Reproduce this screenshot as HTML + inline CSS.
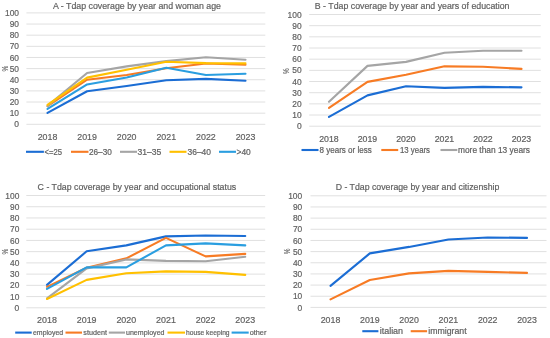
<!DOCTYPE html>
<html><head><meta charset="utf-8"><style>
html,body{margin:0;padding:0;background:#fff;width:550px;height:338px;overflow:hidden}
svg{display:block}
text{font-family:"Liberation Sans", sans-serif;fill:#606060;stroke:#606060;stroke-width:0.2px}
svg{filter:blur(0.25px)}
</style></head><body>
<svg width="550" height="338" viewBox="0 0 550 338">
<rect width="550" height="338" fill="#fff"/>
<line x1="26.4" y1="124.30" x2="265.3" y2="124.30" stroke="#e0e0e0" stroke-width="1.0"/>
<line x1="26.4" y1="113.16" x2="265.3" y2="113.16" stroke="#e0e0e0" stroke-width="1.0"/>
<line x1="26.4" y1="102.02" x2="265.3" y2="102.02" stroke="#e0e0e0" stroke-width="1.0"/>
<line x1="26.4" y1="90.88" x2="265.3" y2="90.88" stroke="#e0e0e0" stroke-width="1.0"/>
<line x1="26.4" y1="79.74" x2="265.3" y2="79.74" stroke="#e0e0e0" stroke-width="1.0"/>
<line x1="26.4" y1="68.60" x2="265.3" y2="68.60" stroke="#e0e0e0" stroke-width="1.0"/>
<line x1="26.4" y1="57.46" x2="265.3" y2="57.46" stroke="#e0e0e0" stroke-width="1.0"/>
<line x1="26.4" y1="46.32" x2="265.3" y2="46.32" stroke="#e0e0e0" stroke-width="1.0"/>
<line x1="26.4" y1="35.18" x2="265.3" y2="35.18" stroke="#e0e0e0" stroke-width="1.0"/>
<line x1="26.4" y1="24.04" x2="265.3" y2="24.04" stroke="#e0e0e0" stroke-width="1.0"/>
<line x1="26.4" y1="12.90" x2="265.3" y2="12.90" stroke="#e0e0e0" stroke-width="1.0"/>
<text x="19.00" y="127.40" font-size="9.3" text-anchor="end" textLength="4.7" lengthAdjust="spacingAndGlyphs">0</text>
<text x="19.00" y="116.26" font-size="9.3" text-anchor="end" textLength="9.3" lengthAdjust="spacingAndGlyphs">10</text>
<text x="19.00" y="105.12" font-size="9.3" text-anchor="end" textLength="9.3" lengthAdjust="spacingAndGlyphs">20</text>
<text x="19.00" y="93.98" font-size="9.3" text-anchor="end" textLength="9.3" lengthAdjust="spacingAndGlyphs">30</text>
<text x="19.00" y="82.84" font-size="9.3" text-anchor="end" textLength="9.3" lengthAdjust="spacingAndGlyphs">40</text>
<text x="19.00" y="71.70" font-size="9.3" text-anchor="end" textLength="9.3" lengthAdjust="spacingAndGlyphs">50</text>
<text x="19.00" y="60.56" font-size="9.3" text-anchor="end" textLength="9.3" lengthAdjust="spacingAndGlyphs">60</text>
<text x="19.00" y="49.42" font-size="9.3" text-anchor="end" textLength="9.3" lengthAdjust="spacingAndGlyphs">70</text>
<text x="19.00" y="38.28" font-size="9.3" text-anchor="end" textLength="9.3" lengthAdjust="spacingAndGlyphs">80</text>
<text x="19.00" y="27.14" font-size="9.3" text-anchor="end" textLength="9.3" lengthAdjust="spacingAndGlyphs">90</text>
<text x="19.00" y="16.00" font-size="9.3" text-anchor="end" textLength="14.0" lengthAdjust="spacingAndGlyphs">100</text>
<text x="0" y="0" font-size="9" text-anchor="middle" textLength="5.8" lengthAdjust="spacingAndGlyphs" style="stroke-width:0.1px" transform="translate(4.75,68.50) rotate(-90)" dy="0.35em">%</text>
<text x="47.50" y="140.20" font-size="9.8" text-anchor="middle" textLength="19.7" lengthAdjust="spacingAndGlyphs">2018</text>
<text x="87.10" y="140.20" font-size="9.8" text-anchor="middle" textLength="19.7" lengthAdjust="spacingAndGlyphs">2019</text>
<text x="126.70" y="140.20" font-size="9.8" text-anchor="middle" textLength="19.7" lengthAdjust="spacingAndGlyphs">2020</text>
<text x="166.30" y="140.20" font-size="9.8" text-anchor="middle" textLength="19.7" lengthAdjust="spacingAndGlyphs">2021</text>
<text x="205.90" y="140.20" font-size="9.8" text-anchor="middle" textLength="19.7" lengthAdjust="spacingAndGlyphs">2022</text>
<text x="245.50" y="140.20" font-size="9.8" text-anchor="middle" textLength="19.7" lengthAdjust="spacingAndGlyphs">2023</text>
<text x="53.00" y="9.30" font-size="9.6" text-anchor="start" textLength="168.0" lengthAdjust="spacingAndGlyphs">A - Tdap coverage by year and woman age</text>
<polyline points="47.50,112.94 87.10,91.21 126.70,85.98 166.30,80.19 205.90,78.85 245.50,80.74" fill="none" stroke="#1b6dd4" stroke-width="2.1" stroke-linejoin="round" stroke-linecap="round"/>
<polyline points="47.50,106.25 87.10,79.74 126.70,74.95 166.30,68.27 205.90,63.48 245.50,64.70" fill="none" stroke="#f77b24" stroke-width="2.1" stroke-linejoin="round" stroke-linecap="round"/>
<polyline points="47.50,105.92 87.10,72.94 126.70,66.37 166.30,61.14 205.90,57.24 245.50,59.69" fill="none" stroke="#a5a5a5" stroke-width="2.1" stroke-linejoin="round" stroke-linecap="round"/>
<polyline points="47.50,104.92 87.10,77.62 126.70,69.71 166.30,61.69 205.90,63.14 245.50,63.36" fill="none" stroke="#ffc000" stroke-width="2.1" stroke-linejoin="round" stroke-linecap="round"/>
<polyline points="47.50,108.93 87.10,84.42 126.70,77.51 166.30,67.71 205.90,74.95 245.50,73.72" fill="none" stroke="#2a9ee0" stroke-width="2.1" stroke-linejoin="round" stroke-linecap="round"/>
<line x1="26" y1="151.8" x2="43.9" y2="151.8" stroke="#1b6dd4" stroke-width="2.1"/>
<text x="44.50" y="154.80" font-size="8.5" text-anchor="start" textLength="17.5" lengthAdjust="spacingAndGlyphs">&lt;=25</text>
<line x1="71" y1="151.8" x2="88.5" y2="151.8" stroke="#f77b24" stroke-width="2.1"/>
<text x="89.00" y="154.80" font-size="8.5" text-anchor="start" textLength="22.8" lengthAdjust="spacingAndGlyphs">26–30</text>
<line x1="120" y1="151.8" x2="137" y2="151.8" stroke="#a5a5a5" stroke-width="2.1"/>
<text x="137.50" y="154.80" font-size="8.5" text-anchor="start" textLength="23.9" lengthAdjust="spacingAndGlyphs">31–35</text>
<line x1="169.5" y1="151.8" x2="186.5" y2="151.8" stroke="#ffc000" stroke-width="2.1"/>
<text x="187.50" y="154.80" font-size="8.5" text-anchor="start" textLength="23.5" lengthAdjust="spacingAndGlyphs">36–40</text>
<line x1="219" y1="151.8" x2="236" y2="151.8" stroke="#2a9ee0" stroke-width="2.1"/>
<text x="236.50" y="154.80" font-size="8.5" text-anchor="start" textLength="14.3" lengthAdjust="spacingAndGlyphs">&gt;40</text>
<line x1="309.2" y1="126.20" x2="540.75" y2="126.20" stroke="#e0e0e0" stroke-width="1.0"/>
<line x1="309.2" y1="115.03" x2="540.75" y2="115.03" stroke="#e0e0e0" stroke-width="1.0"/>
<line x1="309.2" y1="103.86" x2="540.75" y2="103.86" stroke="#e0e0e0" stroke-width="1.0"/>
<line x1="309.2" y1="92.69" x2="540.75" y2="92.69" stroke="#e0e0e0" stroke-width="1.0"/>
<line x1="309.2" y1="81.52" x2="540.75" y2="81.52" stroke="#e0e0e0" stroke-width="1.0"/>
<line x1="309.2" y1="70.35" x2="540.75" y2="70.35" stroke="#e0e0e0" stroke-width="1.0"/>
<line x1="309.2" y1="59.18" x2="540.75" y2="59.18" stroke="#e0e0e0" stroke-width="1.0"/>
<line x1="309.2" y1="48.01" x2="540.75" y2="48.01" stroke="#e0e0e0" stroke-width="1.0"/>
<line x1="309.2" y1="36.84" x2="540.75" y2="36.84" stroke="#e0e0e0" stroke-width="1.0"/>
<line x1="309.2" y1="25.67" x2="540.75" y2="25.67" stroke="#e0e0e0" stroke-width="1.0"/>
<line x1="309.2" y1="14.50" x2="540.75" y2="14.50" stroke="#e0e0e0" stroke-width="1.0"/>
<text x="301.60" y="129.30" font-size="9.3" text-anchor="end" textLength="4.7" lengthAdjust="spacingAndGlyphs">0</text>
<text x="301.60" y="118.13" font-size="9.3" text-anchor="end" textLength="9.3" lengthAdjust="spacingAndGlyphs">10</text>
<text x="301.60" y="106.96" font-size="9.3" text-anchor="end" textLength="9.3" lengthAdjust="spacingAndGlyphs">20</text>
<text x="301.60" y="95.79" font-size="9.3" text-anchor="end" textLength="9.3" lengthAdjust="spacingAndGlyphs">30</text>
<text x="301.60" y="84.62" font-size="9.3" text-anchor="end" textLength="9.3" lengthAdjust="spacingAndGlyphs">40</text>
<text x="301.60" y="73.45" font-size="9.3" text-anchor="end" textLength="9.3" lengthAdjust="spacingAndGlyphs">50</text>
<text x="301.60" y="62.28" font-size="9.3" text-anchor="end" textLength="9.3" lengthAdjust="spacingAndGlyphs">60</text>
<text x="301.60" y="51.11" font-size="9.3" text-anchor="end" textLength="9.3" lengthAdjust="spacingAndGlyphs">70</text>
<text x="301.60" y="39.94" font-size="9.3" text-anchor="end" textLength="9.3" lengthAdjust="spacingAndGlyphs">80</text>
<text x="301.60" y="28.77" font-size="9.3" text-anchor="end" textLength="9.3" lengthAdjust="spacingAndGlyphs">90</text>
<text x="301.60" y="17.60" font-size="9.3" text-anchor="end" textLength="14.0" lengthAdjust="spacingAndGlyphs">100</text>
<text x="0" y="0" font-size="9" text-anchor="middle" textLength="5.8" lengthAdjust="spacingAndGlyphs" style="stroke-width:0.1px" transform="translate(285.55,71.00) rotate(-90)" dy="0.35em">%</text>
<text x="329.00" y="141.90" font-size="9" text-anchor="middle" textLength="19.5" lengthAdjust="spacingAndGlyphs">2018</text>
<text x="367.50" y="141.90" font-size="9" text-anchor="middle" textLength="19.5" lengthAdjust="spacingAndGlyphs">2019</text>
<text x="406.00" y="141.90" font-size="9" text-anchor="middle" textLength="19.5" lengthAdjust="spacingAndGlyphs">2020</text>
<text x="444.50" y="141.90" font-size="9" text-anchor="middle" textLength="19.5" lengthAdjust="spacingAndGlyphs">2021</text>
<text x="483.00" y="141.90" font-size="9" text-anchor="middle" textLength="19.5" lengthAdjust="spacingAndGlyphs">2022</text>
<text x="521.50" y="141.90" font-size="9" text-anchor="middle" textLength="19.5" lengthAdjust="spacingAndGlyphs">2023</text>
<text x="314.80" y="9.30" font-size="9.6" text-anchor="start" textLength="194.7" lengthAdjust="spacingAndGlyphs">B - Tdap coverage by year and years of education</text>
<polyline points="329.00,116.93 367.50,95.37 406.00,86.32 444.50,87.89 483.00,86.88 521.50,87.33" fill="none" stroke="#1b6dd4" stroke-width="2.1" stroke-linejoin="round" stroke-linecap="round"/>
<polyline points="329.00,107.88 367.50,81.86 406.00,74.82 444.50,66.33 483.00,66.78 521.50,68.90" fill="none" stroke="#f77b24" stroke-width="2.1" stroke-linejoin="round" stroke-linecap="round"/>
<polyline points="329.00,101.85 367.50,65.88 406.00,61.86 444.50,52.81 483.00,50.80 521.50,50.80" fill="none" stroke="#a5a5a5" stroke-width="2.1" stroke-linejoin="round" stroke-linecap="round"/>
<line x1="301.5" y1="150.0" x2="318.5" y2="150.0" stroke="#1b6dd4" stroke-width="2.1"/>
<text x="319.50" y="153.00" font-size="8.5" text-anchor="start" textLength="52.2" lengthAdjust="spacingAndGlyphs">8 years or less</text>
<line x1="381.3" y1="150.0" x2="398.2" y2="150.0" stroke="#f77b24" stroke-width="2.1"/>
<text x="400.00" y="153.00" font-size="8.5" text-anchor="start" textLength="30.0" lengthAdjust="spacingAndGlyphs">13 years</text>
<line x1="440.5" y1="150.0" x2="457.3" y2="150.0" stroke="#a5a5a5" stroke-width="2.1"/>
<text x="458.00" y="153.00" font-size="8.5" text-anchor="start" textLength="72.0" lengthAdjust="spacingAndGlyphs">more than 13 years</text>
<line x1="26.3" y1="307.80" x2="265.2" y2="307.80" stroke="#e0e0e0" stroke-width="1.0"/>
<line x1="26.3" y1="296.57" x2="265.2" y2="296.57" stroke="#e0e0e0" stroke-width="1.0"/>
<line x1="26.3" y1="285.34" x2="265.2" y2="285.34" stroke="#e0e0e0" stroke-width="1.0"/>
<line x1="26.3" y1="274.11" x2="265.2" y2="274.11" stroke="#e0e0e0" stroke-width="1.0"/>
<line x1="26.3" y1="262.88" x2="265.2" y2="262.88" stroke="#e0e0e0" stroke-width="1.0"/>
<line x1="26.3" y1="251.65" x2="265.2" y2="251.65" stroke="#e0e0e0" stroke-width="1.0"/>
<line x1="26.3" y1="240.42" x2="265.2" y2="240.42" stroke="#e0e0e0" stroke-width="1.0"/>
<line x1="26.3" y1="229.19" x2="265.2" y2="229.19" stroke="#e0e0e0" stroke-width="1.0"/>
<line x1="26.3" y1="217.96" x2="265.2" y2="217.96" stroke="#e0e0e0" stroke-width="1.0"/>
<line x1="26.3" y1="206.73" x2="265.2" y2="206.73" stroke="#e0e0e0" stroke-width="1.0"/>
<line x1="26.3" y1="195.50" x2="265.2" y2="195.50" stroke="#e0e0e0" stroke-width="1.0"/>
<text x="19.30" y="310.90" font-size="9.3" text-anchor="end" textLength="4.7" lengthAdjust="spacingAndGlyphs">0</text>
<text x="19.30" y="299.67" font-size="9.3" text-anchor="end" textLength="9.3" lengthAdjust="spacingAndGlyphs">10</text>
<text x="19.30" y="288.44" font-size="9.3" text-anchor="end" textLength="9.3" lengthAdjust="spacingAndGlyphs">20</text>
<text x="19.30" y="277.21" font-size="9.3" text-anchor="end" textLength="9.3" lengthAdjust="spacingAndGlyphs">30</text>
<text x="19.30" y="265.98" font-size="9.3" text-anchor="end" textLength="9.3" lengthAdjust="spacingAndGlyphs">40</text>
<text x="19.30" y="254.75" font-size="9.3" text-anchor="end" textLength="9.3" lengthAdjust="spacingAndGlyphs">50</text>
<text x="19.30" y="243.52" font-size="9.3" text-anchor="end" textLength="9.3" lengthAdjust="spacingAndGlyphs">60</text>
<text x="19.30" y="232.29" font-size="9.3" text-anchor="end" textLength="9.3" lengthAdjust="spacingAndGlyphs">70</text>
<text x="19.30" y="221.06" font-size="9.3" text-anchor="end" textLength="9.3" lengthAdjust="spacingAndGlyphs">80</text>
<text x="19.30" y="209.83" font-size="9.3" text-anchor="end" textLength="9.3" lengthAdjust="spacingAndGlyphs">90</text>
<text x="19.30" y="198.60" font-size="9.3" text-anchor="end" textLength="14.0" lengthAdjust="spacingAndGlyphs">100</text>
<text x="0" y="0" font-size="9" text-anchor="middle" textLength="5.8" lengthAdjust="spacingAndGlyphs" style="stroke-width:0.1px" transform="translate(4.75,251.60) rotate(-90)" dy="0.35em">%</text>
<text x="47.00" y="323.40" font-size="9.7" text-anchor="middle" textLength="19.8" lengthAdjust="spacingAndGlyphs">2018</text>
<text x="86.65" y="323.40" font-size="9.7" text-anchor="middle" textLength="19.8" lengthAdjust="spacingAndGlyphs">2019</text>
<text x="126.30" y="323.40" font-size="9.7" text-anchor="middle" textLength="19.8" lengthAdjust="spacingAndGlyphs">2020</text>
<text x="165.95" y="323.40" font-size="9.7" text-anchor="middle" textLength="19.8" lengthAdjust="spacingAndGlyphs">2021</text>
<text x="205.60" y="323.40" font-size="9.7" text-anchor="middle" textLength="19.8" lengthAdjust="spacingAndGlyphs">2022</text>
<text x="245.25" y="323.40" font-size="9.7" text-anchor="middle" textLength="19.8" lengthAdjust="spacingAndGlyphs">2023</text>
<text x="37.60" y="189.80" font-size="9.6" text-anchor="start" textLength="198.6" lengthAdjust="spacingAndGlyphs">C - Tdap coverage by year and occupational status</text>
<polyline points="47.00,284.89 86.65,251.31 126.30,245.36 165.95,236.38 205.60,235.48 245.25,236.04" fill="none" stroke="#1b6dd4" stroke-width="2.1" stroke-linejoin="round" stroke-linecap="round"/>
<polyline points="47.00,286.91 86.65,267.82 126.30,258.39 165.95,237.84 205.60,256.37 245.25,253.90" fill="none" stroke="#f77b24" stroke-width="2.1" stroke-linejoin="round" stroke-linecap="round"/>
<polyline points="47.00,298.37 86.65,268.38 126.30,259.40 165.95,260.86 205.60,261.31 245.25,256.82" fill="none" stroke="#a5a5a5" stroke-width="2.1" stroke-linejoin="round" stroke-linecap="round"/>
<polyline points="47.00,298.93 86.65,279.84 126.30,273.32 165.95,271.41 205.60,271.86 245.25,274.90" fill="none" stroke="#ffc000" stroke-width="2.1" stroke-linejoin="round" stroke-linecap="round"/>
<polyline points="47.00,288.93 86.65,267.37 126.30,267.37 165.95,245.36 205.60,243.34 245.25,245.36" fill="none" stroke="#2a9ee0" stroke-width="2.1" stroke-linejoin="round" stroke-linecap="round"/>
<line x1="15.2" y1="332.6" x2="31.7" y2="332.6" stroke="#1b6dd4" stroke-width="2.1"/>
<text x="33.00" y="335.10" font-size="7.8" text-anchor="start" textLength="30.2" lengthAdjust="spacingAndGlyphs">employed</text>
<line x1="65.5" y1="332.6" x2="82" y2="332.6" stroke="#f77b24" stroke-width="2.1"/>
<text x="83.30" y="335.10" font-size="7.8" text-anchor="start" textLength="23.6" lengthAdjust="spacingAndGlyphs">student</text>
<line x1="108.8" y1="332.6" x2="125" y2="332.6" stroke="#a5a5a5" stroke-width="2.1"/>
<text x="126.00" y="335.10" font-size="7.8" text-anchor="start" textLength="38.5" lengthAdjust="spacingAndGlyphs">unemployed</text>
<line x1="167.5" y1="332.6" x2="185" y2="332.6" stroke="#ffc000" stroke-width="2.1"/>
<text x="186.00" y="335.10" font-size="7.8" text-anchor="start" textLength="43.6" lengthAdjust="spacingAndGlyphs">house keeping</text>
<line x1="231.6" y1="332.6" x2="248.7" y2="332.6" stroke="#2a9ee0" stroke-width="2.1"/>
<text x="249.70" y="335.10" font-size="7.8" text-anchor="start" textLength="16.7" lengthAdjust="spacingAndGlyphs">other</text>
<line x1="310.5" y1="307.40" x2="546.5" y2="307.40" stroke="#e0e0e0" stroke-width="1.0"/>
<line x1="310.5" y1="296.24" x2="546.5" y2="296.24" stroke="#e0e0e0" stroke-width="1.0"/>
<line x1="310.5" y1="285.08" x2="546.5" y2="285.08" stroke="#e0e0e0" stroke-width="1.0"/>
<line x1="310.5" y1="273.92" x2="546.5" y2="273.92" stroke="#e0e0e0" stroke-width="1.0"/>
<line x1="310.5" y1="262.76" x2="546.5" y2="262.76" stroke="#e0e0e0" stroke-width="1.0"/>
<line x1="310.5" y1="251.60" x2="546.5" y2="251.60" stroke="#e0e0e0" stroke-width="1.0"/>
<line x1="310.5" y1="240.44" x2="546.5" y2="240.44" stroke="#e0e0e0" stroke-width="1.0"/>
<line x1="310.5" y1="229.28" x2="546.5" y2="229.28" stroke="#e0e0e0" stroke-width="1.0"/>
<line x1="310.5" y1="218.12" x2="546.5" y2="218.12" stroke="#e0e0e0" stroke-width="1.0"/>
<line x1="310.5" y1="206.96" x2="546.5" y2="206.96" stroke="#e0e0e0" stroke-width="1.0"/>
<line x1="310.5" y1="195.80" x2="546.5" y2="195.80" stroke="#e0e0e0" stroke-width="1.0"/>
<text x="302.20" y="310.50" font-size="9.3" text-anchor="end" textLength="4.7" lengthAdjust="spacingAndGlyphs">0</text>
<text x="302.20" y="299.34" font-size="9.3" text-anchor="end" textLength="9.3" lengthAdjust="spacingAndGlyphs">10</text>
<text x="302.20" y="288.18" font-size="9.3" text-anchor="end" textLength="9.3" lengthAdjust="spacingAndGlyphs">20</text>
<text x="302.20" y="277.02" font-size="9.3" text-anchor="end" textLength="9.3" lengthAdjust="spacingAndGlyphs">30</text>
<text x="302.20" y="265.86" font-size="9.3" text-anchor="end" textLength="9.3" lengthAdjust="spacingAndGlyphs">40</text>
<text x="302.20" y="254.70" font-size="9.3" text-anchor="end" textLength="9.3" lengthAdjust="spacingAndGlyphs">50</text>
<text x="302.20" y="243.54" font-size="9.3" text-anchor="end" textLength="9.3" lengthAdjust="spacingAndGlyphs">60</text>
<text x="302.20" y="232.38" font-size="9.3" text-anchor="end" textLength="9.3" lengthAdjust="spacingAndGlyphs">70</text>
<text x="302.20" y="221.22" font-size="9.3" text-anchor="end" textLength="9.3" lengthAdjust="spacingAndGlyphs">80</text>
<text x="302.20" y="210.06" font-size="9.3" text-anchor="end" textLength="9.3" lengthAdjust="spacingAndGlyphs">90</text>
<text x="302.20" y="198.90" font-size="9.3" text-anchor="end" textLength="14.0" lengthAdjust="spacingAndGlyphs">100</text>
<text x="0" y="0" font-size="9" text-anchor="middle" textLength="5.8" lengthAdjust="spacingAndGlyphs" style="stroke-width:0.1px" transform="translate(286.85,251.30) rotate(-90)" dy="0.35em">%</text>
<text x="330.50" y="323.10" font-size="9.7" text-anchor="middle" textLength="19.6" lengthAdjust="spacingAndGlyphs">2018</text>
<text x="369.80" y="323.10" font-size="9.7" text-anchor="middle" textLength="19.6" lengthAdjust="spacingAndGlyphs">2019</text>
<text x="409.10" y="323.10" font-size="9.7" text-anchor="middle" textLength="19.6" lengthAdjust="spacingAndGlyphs">2020</text>
<text x="448.40" y="323.10" font-size="9.7" text-anchor="middle" textLength="19.6" lengthAdjust="spacingAndGlyphs">2021</text>
<text x="487.70" y="323.10" font-size="9.7" text-anchor="middle" textLength="19.6" lengthAdjust="spacingAndGlyphs">2022</text>
<text x="527.00" y="323.10" font-size="9.7" text-anchor="middle" textLength="19.6" lengthAdjust="spacingAndGlyphs">2023</text>
<text x="335.70" y="189.90" font-size="9.6" text-anchor="start" textLength="163.7" lengthAdjust="spacingAndGlyphs">D - Tdap coverage by year and citizenship</text>
<polyline points="330.50,285.86 369.80,253.39 409.10,246.91 448.40,239.44 487.70,237.43 527.00,237.87" fill="none" stroke="#1b6dd4" stroke-width="2.1" stroke-linejoin="round" stroke-linecap="round"/>
<polyline points="330.50,299.36 369.80,279.95 409.10,273.36 448.40,270.91 487.70,271.91 527.00,272.92" fill="none" stroke="#f77b24" stroke-width="2.1" stroke-linejoin="round" stroke-linecap="round"/>
<line x1="362.3" y1="331.2" x2="378.4" y2="331.2" stroke="#1b6dd4" stroke-width="2.1"/>
<text x="379.70" y="334.20" font-size="8.8" text-anchor="start" textLength="23.4" lengthAdjust="spacingAndGlyphs">italian</text>
<line x1="410.7" y1="331.2" x2="427.1" y2="331.2" stroke="#f77b24" stroke-width="2.1"/>
<text x="428.20" y="334.20" font-size="8.8" text-anchor="start" textLength="38.5" lengthAdjust="spacingAndGlyphs">immigrant</text>
</svg>
</body></html>
